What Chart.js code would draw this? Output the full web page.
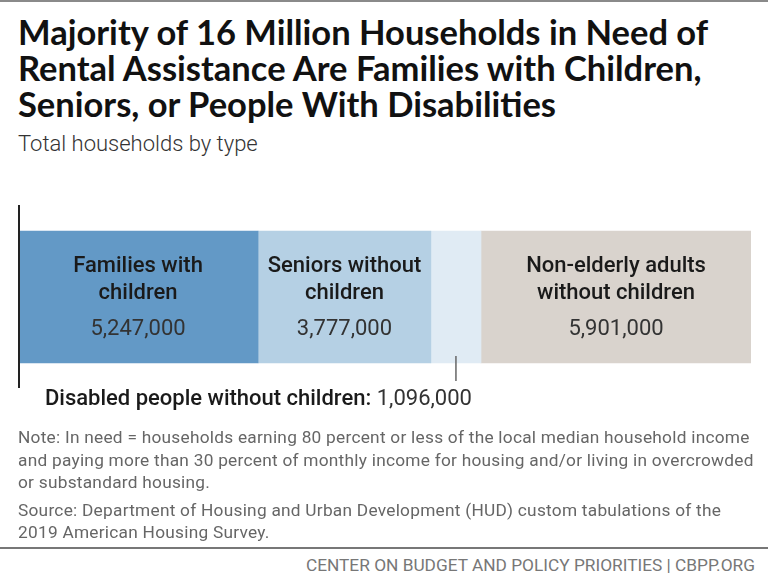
<!DOCTYPE html>
<html>
<head>
<meta charset="utf-8">
<script src="https://cdn.jsdelivr.net/npm/chart.js@4.4.0/dist/chart.umd.min.js"></script>
<style>
  html, body { margin: 0; padding: 0; background: #fff; }
  #page { position: relative; width: 768px; height: 585px; overflow: hidden; font-family: Roboto, "Noto Sans", sans-serif; }
  #topLine { position: absolute; left: 0; top: 0; width: 768px; height: 2px; background: #8a8a8a; }
  #title { position: absolute; left: 18px; top: 14px; width: 750px; font-family: Lato, Roboto, sans-serif; font-weight: 700; font-size: 34.5px; line-height: 36px; color: #111; white-space: nowrap; }
  #subtitle { position: absolute; left: 18px; top: 131px; font-weight: 300; font-size: 22px; color: #333; }
  #chartBox { position: absolute; left: 0; top: 190px; width: 768px; height: 240px; }
  #note { position: absolute; left: 18px; top: 426px; width: 750px; font-size: 17.3px; letter-spacing: 0.25px; line-height: 22.5px; color: #666; white-space: nowrap; }
  #note p { margin: 0 0 5px 0; }
  #bottomLine { position: absolute; left: 0; top: 547px; width: 768px; height: 2px; background: #777; }
  #footer { position: absolute; right: 13px; top: 555px; font-size: 17.3px; color: #777; }
</style>
</head>
<body>
<div id="page">
  <div id="topLine"></div>
  <div id="title">Majority of 16 Million Households in Need of<br>Rental Assistance Are Families with Children,<br>Seniors, or People With Disabilities</div>
  <div id="subtitle">Total households by type</div>
  <div id="chartBox"><canvas id="chart" width="768" height="240"></canvas></div>
  <div id="note">
    <p>Note: In need = households earning 80 percent or less of the local median household income<br>and paying more than 30 percent of monthly income for housing and/or living in overcrowded<br>or substandard housing.</p>
    <p>Source: Department of Housing and Urban Development (HUD) custom tabulations of the<br>2019 American Housing Survey.</p>
  </div>
  <div id="bottomLine"></div>
  <div id="footer">CENTER ON BUDGET AND POLICY PRIORITIES | CBPP.ORG</div>
</div>
<script>
// household types, left to right
const segmentNames = ['Families with children', 'Seniors without children', 'Disabled people without children', 'Non-elderly adults without children'];
const segmentLabelLines = [['Families with', 'children'], ['Seniors without', 'children'], null, ['Non-elderly adults', 'without children']];
const households = [5247000, 3777000, 1096000, 5901000];
const segmentColors = ['#6399c6', '#b5d0e4', '#e0ebf4', '#d9d3cd'];
const calloutLabel = 'Disabled people without children:';

const total = households.reduce((a, b) => a + b, 0);

function fmt(n) {
    return n.toLocaleString('en-US');
}

const labelPlugin = {
    id: 'segmentLabels',
    afterDatasetsDraw(chart) {
        const ctx = chart.ctx;
        const area = chart.chartArea;
        ctx.save();

        // left axis line
        ctx.strokeStyle = '#222';
        ctx.lineWidth = 2;
        ctx.beginPath();
        ctx.moveTo(area.left + 1, 15);
        ctx.lineTo(area.left + 1, 198);
        ctx.stroke();

        ctx.textBaseline = 'alphabetic';
        chart.data.datasets.forEach((ds, i) => {
            const bar = chart.getDatasetMeta(i).data[0];
            const cx = (bar.x + bar.base) / 2;
            const top = bar.y - bar.height / 2;
            const lines = segmentLabelLines[i];
            if (lines) {
                ctx.textAlign = 'center';
                ctx.fillStyle = '#1a1a1a';
                ctx.font = '500 22px Roboto, sans-serif';
                ctx.fillText(lines[0], cx, top + 41);
                ctx.fillText(lines[1], cx, top + 68);
                ctx.fillStyle = '#333';
                ctx.font = '400 22px Roboto, sans-serif';
                ctx.fillText(fmt(ds.data[0]), cx, top + 104);
            } else {
                // callout below the bar
                const bottom = bar.y + bar.height / 2;
                ctx.strokeStyle = '#666';
                ctx.lineWidth = 1.5;
                ctx.beginPath();
                ctx.moveTo(cx, bottom - 7);
                ctx.lineTo(cx, bottom + 18);
                ctx.stroke();

                ctx.textAlign = 'left';
                const valueText = ' ' + fmt(ds.data[0]);
                ctx.font = '400 22px Roboto, sans-serif';
                const w2 = ctx.measureText(valueText).width;
                const endX = cx + 16;
                ctx.fillStyle = '#333';
                ctx.fillText(valueText, endX - w2, bottom + 42);
                ctx.font = '500 22px Roboto, sans-serif';
                const w1 = ctx.measureText(calloutLabel).width;
                ctx.fillStyle = '#1a1a1a';
                ctx.fillText(calloutLabel, endX - w2 - w1, bottom + 42);
            }
        });
        ctx.restore();
    }
};

new Chart(document.getElementById('chart'), {
    type: 'bar',
    data: {
        labels: ['Households'],
        datasets: households.map((v, i) => ({
            label: segmentNames[i],
            data: [v],
            backgroundColor: segmentColors[i],
            borderWidth: 0,
            barThickness: 132
        }))
    },
    options: {
        indexAxis: 'y',
        responsive: false,
        animation: false,
        devicePixelRatio: 1,
        layout: { padding: { left: 18, right: 17, top: 0, bottom: 26 } },
        plugins: { legend: { display: false }, tooltip: { enabled: false } },
        scales: {
            x: { stacked: true, min: 0, max: total, display: false },
            y: { stacked: true, display: false }
        }
    },
    plugins: [labelPlugin]
});
</script>
</body>
</html>
